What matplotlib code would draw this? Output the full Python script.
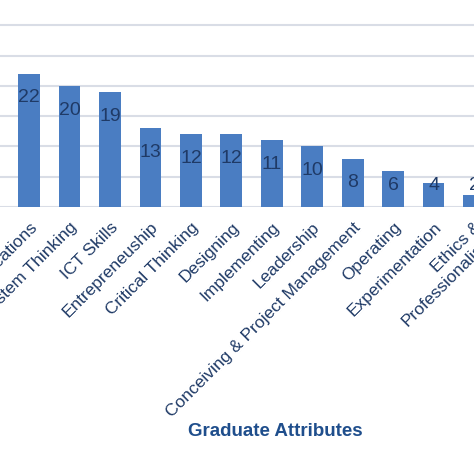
import matplotlib
matplotlib.use("Agg")
import matplotlib.pyplot as plt
import numpy as np

plt.rcParams['font.family'] = ['Liberation Sans', 'DejaVu Sans']

attributes = ["Communications", "System Thinking", "ICT Skills", "Entrepreneuship",
              "Critical Thinking", "Designing", "Implementing", "Leadership",
              "Conceiving & Project Management", "Operating", "Experimentation",
              "Ethics &\nProfessionalism"]
counts = [22, 20, 19, 13, 12, 12, 11, 10, 8, 6, 4, 2]

fig = plt.figure(figsize=(4.74, 4.74), dpi=100)
ax = fig.add_axes([0, 1 - 207 / 474, 1, 207 / 474])

x = np.arange(len(counts))
bars = ax.bar(x, counts, width=0.54, color='#4a7dc2', zorder=3)

for xi, v in zip(x, counts):
    ax.text(xi, max(v - 4, 3.5), str(v), ha='center', va='center',
            fontsize=14, color='#1f3a66', zorder=4)

ax.set_xlim(-29.5 / 41, -29.5 / 41 + 474 / 41)
ax.set_ylim(0, 207 / 6.06)
ax.set_yticks([0, 5, 10, 15, 20, 25, 30])
ax.yaxis.grid(True, color='#d9dde6', lw=1.5, zorder=0)
ax.tick_params(axis='y', left=False, labelleft=False)
ax.tick_params(axis='x', length=0, pad=9)
ax.set_xticks(x)
ax.set_xticklabels(attributes, rotation=45, ha='right', rotation_mode='anchor',
                   fontsize=12.5, color='#1f3a66')
for s in ax.spines.values():
    s.set_visible(False)

fig.text(275 / 474, 1 - 432 / 474, "Graduate Attributes", ha='center', va='center',
         fontsize=13.5, fontweight='bold', color='#1f4e8c')

fig.savefig("out.png", dpi=100)
